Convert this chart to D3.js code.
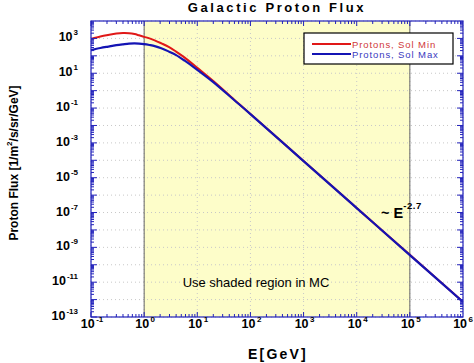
<!DOCTYPE html>
<html><head><meta charset="utf-8">
<script src="https://cdn.jsdelivr.net/npm/d3@7"></script>
<style>
body{margin:0;background:#fff;}
text{font-family:"Liberation Sans",Arial,sans-serif;}
</style></head>
<body><svg id="c" width="474" height="363"></svg>
<script>
const energy   = [0.1, 0.15, 0.21, 0.3, 0.4, 0.52, 0.66, 0.8, 1, 1.26, 1.58, 2.1, 2.95, 4, 5.8, 10, 20, 50, 100, 1e3, 1e4, 1e5, 1e6];
const solMin   = [933, 1290, 1585, 1905, 2040, 1995, 1780, 1510, 1230, 1000, 776, 525, 316, 174, 79, 20.4, 3.55, 0.295, 0.046, 9.2e-5, 1.85e-7, 3.7e-10, 7.4e-13];
const solMax   = [214, 282, 339, 407, 457, 501, 513, 501, 468, 417, 363, 275, 174, 110, 52.5, 15.8, 3.1, 0.28, 0.045, 9.0e-5, 1.8e-7, 3.6e-10, 7.3e-13];
const xTickExp = [-1, 0, 1, 2, 3, 4, 5, 6];
const yTickExp = [3, 1, -1, -3, -5, -7, -9, -11, -13];
const shaded   = [1, 1e5];
const seriesNames = ["Protons, Sol Min", "Protons, Sol Max"];

const svg = d3.select("#c");
const L = 91, R = 463, T = 21, B = 317;
const x = d3.scaleLog().domain([0.1, 1e6]).range([L, R]);
const y = d3.scaleLog().domain([1e-13, 1e4]).range([B, T]);
const axisCol = "#2222bb";

// title
svg.append("text").attr("x", 277).attr("y", 12).attr("text-anchor", "middle")
  .attr("font-size", 13).attr("font-weight", "bold").attr("letter-spacing", 2.6)
  .text("Galactic Proton Flux");

// shaded region
svg.append("rect").attr("x", x(shaded[0])).attr("y", T)
  .attr("width", x(shaded[1]) - x(shaded[0])).attr("height", B - T)
  .attr("fill", "#fdfdc9");

// gridlines
const g = svg.append("g");
for (let e = -1; e <= 6; e++) {
  g.append("line").attr("x1", x(10 ** e)).attr("x2", x(10 ** e)).attr("y1", T).attr("y2", B)
   .attr("stroke", "#c8c8c8").attr("stroke-dasharray", "1,3");
}
for (let e = -13; e <= 4; e++) {
  g.append("line").attr("y1", y(10 ** e)).attr("y2", y(10 ** e)).attr("x1", L).attr("x2", R)
   .attr("stroke", "#c8c8c8").attr("stroke-dasharray", "1,3");
}
// shaded region edges
[shaded[0], shaded[1]].forEach(v => {
  svg.append("line").attr("x1", x(v)).attr("x2", x(v)).attr("y1", T).attr("y2", B)
    .attr("stroke", "#666").attr("stroke-width", 1);
});

// annotation text
svg.append("text").attr("x", 256).attr("y", 287).attr("text-anchor", "middle")
  .attr("font-size", 13).text("Use shaded region in MC");
const ann = svg.append("text").attr("x", 381).attr("y", 218)
  .attr("font-size", 14.5).attr("font-weight", "bold");
ann.append("tspan").text("~ E");
ann.append("tspan").attr("dy", -9).attr("font-size", 9.5).attr("letter-spacing", 0.6).text("-2.7");

// curves
svg.append("clipPath").attr("id", "clp").append("rect")
  .attr("x", L).attr("y", T).attr("width", R - L).attr("height", B - T);
const line = d3.line().curve(d3.curveCatmullRom.alpha(0.5))
  .x(d => x(d[0])).y(d => y(d[1]));
svg.append("path").datum(energy.map((e, i) => [e, solMin[i]]))
  .attr("d", line).attr("fill", "none").attr("stroke", "#e01818").attr("stroke-width", 2)
  .attr("clip-path", "url(#clp)");
svg.append("path").datum(energy.map((e, i) => [e, solMax[i]]))
  .attr("d", line).attr("fill", "none").attr("stroke", "#1414b4").attr("stroke-width", 2.2)
  .attr("clip-path", "url(#clp)");

// axes frame & ticks
const ax = svg.append("g").attr("stroke", axisCol);
ax.append("rect").attr("x", L).attr("y", T).attr("width", R - L).attr("height", B - T)
  .attr("fill", "none").attr("stroke-width", 1.2);
for (let e = -1; e < 6; e++) {
  for (let m = 1; m <= 9; m++) {
    const xv = x(m * 10 ** e);
    const len = m === 1 ? 5 : 3;
    ax.append("line").attr("x1", xv).attr("x2", xv).attr("y1", B).attr("y2", B - len);
    ax.append("line").attr("x1", xv).attr("x2", xv).attr("y1", T).attr("y2", T + len);
  }
}
for (let e = -13; e < 4; e++) {
  for (let m = 1; m <= 9; m++) {
    const yv = y(m * 10 ** e);
    const len = m === 1 ? 6 : 3;
    ax.append("line").attr("y1", yv).attr("y2", yv).attr("x1", L).attr("x2", L + len);
    ax.append("line").attr("y1", yv).attr("y2", yv).attr("x1", R).attr("x2", R - len);
  }
}

// x tick labels
xTickExp.forEach((e, i) => {
  const last = i === xTickExp.length - 1;
  const t = svg.append("text").attr("x", last ? 473 : x(10 ** e) + 1).attr("y", 328)
    .attr("text-anchor", last ? "end" : "middle").attr("font-size", 12.5).attr("font-weight", "bold");
  t.append("tspan").text("10");
  t.append("tspan").attr("dx", 1.5).attr("dy", -6).attr("font-size", 8).text(e);
});
// y tick labels
yTickExp.forEach(e => {
  const t = svg.append("text").attr("x", 78).attr("y", y(10 ** e) + 3)
    .attr("text-anchor", "end").attr("font-size", 12.5).attr("font-weight", "bold");
  t.append("tspan").text("10");
  t.append("tspan").attr("dx", 1).attr("dy", -6).attr("font-size", 8).text(e);
});

// axis titles
svg.append("text").attr("x", 278).attr("y", 359).attr("text-anchor", "middle")
  .attr("font-size", 14).attr("font-weight", "bold").attr("letter-spacing", 2.2)
  .text("E[GeV]");
const yl = svg.append("text").attr("transform", "translate(18,163) rotate(-90)")
  .attr("text-anchor", "middle").attr("font-size", 12).attr("font-weight", "bold");
yl.append("tspan").text("Proton Flux [1/m");
yl.append("tspan").attr("dy", -6).attr("font-size", 8).text("2");
yl.append("tspan").attr("dy", 6).text("/s/sr/GeV]");

// legend
const lg = svg.append("g");
lg.append("rect").attr("x", 304).attr("y", 33).attr("width", 149).attr("height", 31)
  .attr("fill", "#fff").attr("stroke", "#000").attr("stroke-width", 1.2);
const legCols = ["#e01818", "#1414b4"];
const legText = ["#d03838", "#3838c0"];
seriesNames.forEach((n, i) => {
  const yy = 44 + i * 10;
  lg.append("line").attr("x1", 312).attr("x2", 351).attr("y1", yy).attr("y2", yy)
    .attr("stroke", legCols[i]).attr("stroke-width", 1.8);
  lg.append("text").attr("x", 352).attr("y", yy + 3.5).attr("font-size", 9.5)
    .attr("letter-spacing", 0.9).attr("fill", legText[i]).text(n);
});
</script></body></html>
